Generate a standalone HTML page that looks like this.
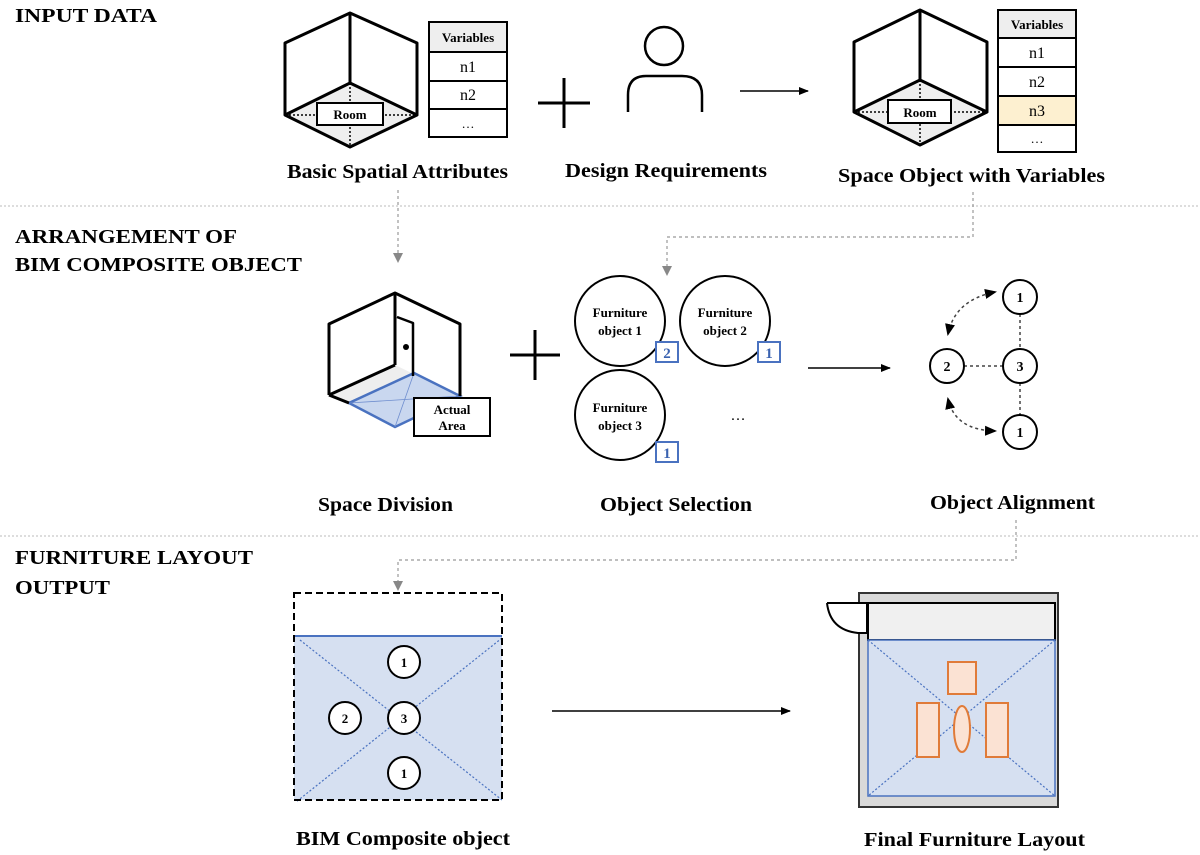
<!DOCTYPE html>
<html><head><meta charset="utf-8"><style>
html,body{margin:0;padding:0;background:#fff;}
svg{display:block;font-family:"Liberation Serif",serif;}
.h{font-weight:bold;font-size:20px;}
.l{font-weight:bold;font-size:20px;}
</style></head><body>
<svg width="1200" height="855" viewBox="0 0 1200 855" xmlns="http://www.w3.org/2000/svg">
<defs>
<marker id="ab" markerWidth="10" markerHeight="10" refX="9" refY="5" orient="auto" markerUnits="userSpaceOnUse"><path d="M0,1 L10,5 L0,9 z" fill="#000"/></marker>
<marker id="ag" markerWidth="12" markerHeight="12" refX="6" refY="11" orient="0" markerUnits="userSpaceOnUse"><path d="M1,2 L11,2 L6,12 z" fill="#888"/></marker>
<marker id="ac" markerWidth="12" markerHeight="12" refX="10" refY="6" orient="auto" markerUnits="userSpaceOnUse"><path d="M0,1 L12,6 L0,11 z" fill="#000"/></marker>
<marker id="acs" markerWidth="12" markerHeight="12" refX="2" refY="6" orient="auto" markerUnits="userSpaceOnUse"><path d="M12,1 L0,6 L12,11 z" fill="#000"/></marker>
</defs>

<text x="15" y="22" class="h" textLength="142" lengthAdjust="spacingAndGlyphs">INPUT DATA</text>
<text x="15" y="243" class="h" textLength="222" lengthAdjust="spacingAndGlyphs">ARRANGEMENT OF</text>
<text x="15" y="271" class="h" textLength="287" lengthAdjust="spacingAndGlyphs">BIM COMPOSITE OBJECT</text>
<text x="15" y="564" class="h" textLength="238" lengthAdjust="spacingAndGlyphs">FURNITURE LAYOUT</text>
<text x="15" y="594" class="h" textLength="95" lengthAdjust="spacingAndGlyphs">OUTPUT</text>

<line x1="0" y1="206" x2="1200" y2="206" stroke="#bbb" stroke-dasharray="2,2"/>
<line x1="0" y1="536" x2="1200" y2="536" stroke="#bbb" stroke-dasharray="2,2"/>

<!-- cube 1 -->
<g stroke="#000" stroke-width="3" fill="none" stroke-linejoin="round">
<path d="M350,83 L285,115 L350,147 L417,115 Z" fill="#eee"/>
<path d="M285,115 L285,43 L350,13 L417,43 L417,115"/>
<line x1="350" y1="13" x2="350" y2="83"/>
</g>
<g stroke="#000" stroke-width="1.5" stroke-dasharray="2,2"><line x1="350" y1="83" x2="350" y2="147"/><line x1="285" y1="115" x2="417" y2="115"/></g>
<rect x="317" y="103" width="66" height="22" fill="#fff" stroke="#000" stroke-width="2"/>
<text x="350" y="119" text-anchor="middle" font-size="13" font-weight="bold">Room</text>
<g stroke="#000" stroke-width="2">
<rect x="429" y="22" width="78" height="30" fill="#eee"/>
<rect x="429" y="52" width="78" height="29" fill="#fff"/>
<rect x="429" y="81" width="78" height="28" fill="#fff"/>
<rect x="429" y="109" width="78" height="28" fill="#fff"/>
</g>
<text x="468" y="42" text-anchor="middle" font-size="13" font-weight="bold">Variables</text>
<text x="468" y="72" text-anchor="middle" font-size="16">n1</text>
<text x="468" y="100" text-anchor="middle" font-size="16">n2</text>
<text x="468" y="128" text-anchor="middle" font-size="13">…</text>
<text x="287" y="178" class="l" textLength="221" lengthAdjust="spacingAndGlyphs">Basic Spatial Attributes</text>

<g stroke="#000" stroke-width="3"><line x1="538" y1="103" x2="590" y2="103"/><line x1="564" y1="78" x2="564" y2="128"/></g>
<circle cx="664" cy="46" r="19" fill="none" stroke="#000" stroke-width="2.5"/>
<path d="M628,112 L628,95 Q628,76 646,76 L682,76 Q702,76 702,95 L702,112" fill="none" stroke="#000" stroke-width="2.5"/>
<text x="565" y="177" class="l" textLength="202" lengthAdjust="spacingAndGlyphs">Design Requirements</text>
<line x1="740" y1="91" x2="808" y2="91" stroke="#000" stroke-width="1.5" marker-end="url(#ab)"/>

<!-- cube 2 -->
<g stroke="#000" stroke-width="3" fill="none" stroke-linejoin="round">
<path d="M920,80 L854,112 L920,145 L987,112 Z" fill="#eee"/>
<path d="M854,112 L854,42 L920,10 L987,42 L987,112"/>
<line x1="920" y1="10" x2="920" y2="80"/>
</g>
<g stroke="#000" stroke-width="1.5" stroke-dasharray="2,2"><line x1="920" y1="80" x2="920" y2="145"/><line x1="854" y1="112" x2="987" y2="112"/></g>
<rect x="888" y="100" width="63" height="23" fill="#fff" stroke="#000" stroke-width="2"/>
<text x="920" y="117" text-anchor="middle" font-size="13" font-weight="bold">Room</text>
<g stroke="#000" stroke-width="2">
<rect x="998" y="10" width="78" height="28" fill="#eee"/>
<rect x="998" y="38" width="78" height="29" fill="#fff"/>
<rect x="998" y="67" width="78" height="29" fill="#fff"/>
<rect x="998" y="96" width="78" height="29" fill="#fdf0d0"/>
<rect x="998" y="125" width="78" height="27" fill="#fff"/>
</g>
<text x="1037" y="29" text-anchor="middle" font-size="13" font-weight="bold">Variables</text>
<text x="1037" y="58" text-anchor="middle" font-size="16">n1</text>
<text x="1037" y="87" text-anchor="middle" font-size="16">n2</text>
<text x="1037" y="116" text-anchor="middle" font-size="16">n3</text>
<text x="1037" y="143" text-anchor="middle" font-size="13">…</text>
<text x="838" y="182" class="l" textLength="267" lengthAdjust="spacingAndGlyphs">Space Object with Variables</text>

<g stroke="#999" stroke-width="1.2" stroke-dasharray="3,3" fill="none">
<path d="M398,190 L398,262" marker-end="url(#ag)"/>
<path d="M973,192 L973,237 L667,237 L667,275" marker-end="url(#ag)"/>
<path d="M1016,520 L1016,560 L398,560 L398,590" marker-end="url(#ag)"/>
</g>

<!-- space division -->
<path d="M395,365 L329,395 L395,427 L460,396 Z" fill="#eee"/>
<path d="M414,373 L349,403 L395,427 L460,396 Z" fill="#c9d7ef" stroke="#4a72c0" stroke-width="2.5"/>
<g stroke="#6f8ecf" stroke-width="0.8"><line x1="414" y1="373" x2="395" y2="427"/><line x1="349" y1="403" x2="460" y2="396"/></g>
<g stroke="#000" stroke-width="3" fill="none" stroke-linejoin="round">
<path d="M329,395 L329,324 L395,293 L460,324 L460,396"/>
<line x1="395" y1="293" x2="395" y2="365"/>
<line x1="395" y1="365" x2="329" y2="395"/>
<line x1="329" y1="395" x2="349" y2="403"/>
<path d="M397,317 L413,323 L413,376" stroke-width="2.5"/>
</g>
<circle cx="406" cy="347" r="3" fill="#000"/>
<rect x="414" y="398" width="76" height="38" fill="#fff" stroke="#000" stroke-width="2"/>
<text x="452" y="414" text-anchor="middle" font-size="13" font-weight="bold">Actual</text>
<text x="452" y="430" text-anchor="middle" font-size="13" font-weight="bold">Area</text>
<text x="318" y="511" class="l" textLength="135" lengthAdjust="spacingAndGlyphs">Space Division</text>

<g stroke="#000" stroke-width="3"><line x1="510" y1="355" x2="560" y2="355"/><line x1="535" y1="330" x2="535" y2="380"/></g>

<g fill="#fff" stroke="#000" stroke-width="2">
<circle cx="620" cy="321" r="45"/><circle cx="725" cy="321" r="45"/><circle cx="620" cy="415" r="45"/>
</g>
<g font-size="13" font-weight="bold" text-anchor="middle">
<text x="620" y="317">Furniture</text><text x="620" y="335">object 1</text>
<text x="725" y="317">Furniture</text><text x="725" y="335">object 2</text>
<text x="620" y="412">Furniture</text><text x="620" y="430">object 3</text>
</g>
<g fill="#fff" stroke="#4a72c0" stroke-width="2">
<rect x="656" y="342" width="22" height="20"/><rect x="758" y="342" width="22" height="20"/><rect x="656" y="442" width="22" height="20"/>
</g>
<g fill="#3a62b0" font-size="15" font-weight="bold" text-anchor="middle">
<text x="667" y="358">2</text><text x="769" y="358">1</text><text x="667" y="458">1</text>
</g>
<text x="738" y="420" text-anchor="middle" font-size="15">…</text>
<text x="600" y="511" class="l" textLength="152" lengthAdjust="spacingAndGlyphs">Object Selection</text>
<line x1="808" y1="368" x2="890" y2="368" stroke="#000" stroke-width="1.5" marker-end="url(#ab)"/>

<g stroke="#444" stroke-width="1.5" stroke-dasharray="3,3" fill="none">
<line x1="1020" y1="314" x2="1020" y2="349"/><line x1="1020" y1="383" x2="1020" y2="415"/>
<line x1="964" y1="366" x2="1003" y2="366"/>
<path d="M948,334 Q955,300 995,292" marker-start="url(#acs)" marker-end="url(#ac)"/>
<path d="M948,399 Q955,430 995,431" marker-start="url(#acs)" marker-end="url(#ac)"/>
</g>
<g fill="#fff" stroke="#000" stroke-width="2">
<circle cx="1020" cy="297" r="17"/><circle cx="947" cy="366" r="17"/><circle cx="1020" cy="366" r="17"/><circle cx="1020" cy="432" r="17"/>
</g>
<g font-size="14" font-weight="bold" text-anchor="middle">
<text x="1020" y="302">1</text><text x="947" y="371">2</text><text x="1020" y="371">3</text><text x="1020" y="437">1</text>
</g>
<text x="930" y="509" class="l" textLength="165" lengthAdjust="spacingAndGlyphs">Object Alignment</text>

<rect x="294" y="636" width="208" height="164" fill="#d6e0f1"/>
<line x1="294" y1="636" x2="502" y2="636" stroke="#4a72c0" stroke-width="2"/>
<g stroke="#4a72c0" stroke-width="1.2" stroke-dasharray="2,2"><line x1="300" y1="640" x2="502" y2="800"/><line x1="502" y1="638" x2="296" y2="802"/></g>
<rect x="294" y="593" width="208" height="207" fill="none" stroke="#000" stroke-width="2" stroke-dasharray="7,4"/>
<g fill="#fff" stroke="#000" stroke-width="2">
<circle cx="404" cy="662" r="16"/><circle cx="345" cy="718" r="16"/><circle cx="404" cy="718" r="16"/><circle cx="404" cy="773" r="16"/>
</g>
<g font-size="13" font-weight="bold" text-anchor="middle">
<text x="404" y="667">1</text><text x="345" y="723">2</text><text x="404" y="723">3</text><text x="404" y="778">1</text>
</g>
<text x="296" y="845" class="l" textLength="214" lengthAdjust="spacingAndGlyphs">BIM Composite object</text>
<line x1="552" y1="711" x2="790" y2="711" stroke="#000" stroke-width="1.5" marker-end="url(#ab)"/>

<rect x="859" y="593" width="199" height="214" fill="#d9d9d9" stroke="#333" stroke-width="2"/>
<rect x="868" y="603" width="187" height="37" fill="#f0f0f0" stroke="#000" stroke-width="2"/>
<rect x="868" y="640" width="187" height="156" fill="#d6e0f1" stroke="#4a72c0" stroke-width="1.5"/>
<g stroke="#4a72c0" stroke-width="1.2" stroke-dasharray="2,2"><line x1="868" y1="640" x2="1055" y2="796"/><line x1="1055" y1="640" x2="868" y2="796"/></g>
<path d="M827,603 L867,603 L867,633 L858,633 Q830,630 827,603" fill="#fff" stroke="#000" stroke-width="2"/>
<g fill="#fbe2d3" stroke="#e07b39" stroke-width="2">
<rect x="948" y="662" width="28" height="32"/>
<rect x="917" y="703" width="22" height="54"/>
<rect x="986" y="703" width="22" height="54"/>
<ellipse cx="962" cy="729" rx="8" ry="23"/>
</g>
<text x="864" y="846" class="l" textLength="221" lengthAdjust="spacingAndGlyphs">Final Furniture Layout</text>
</svg>
</body></html>
